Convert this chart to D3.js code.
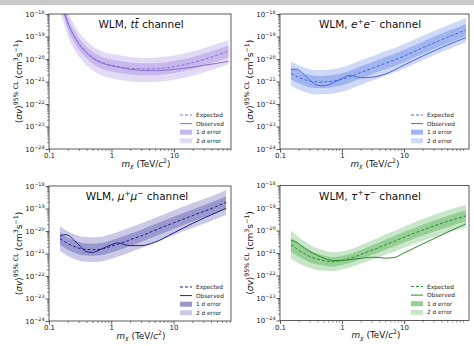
<!DOCTYPE html>
<html>
<head>
<meta charset="utf-8">
<script src="https://cdn.jsdelivr.net/npm/d3@7/dist/d3.min.js"></script>
<style>
  body { margin: 0; background: #fff; }
  svg { display: block; font-family: "DejaVu Sans", sans-serif; }
</style>
</head>
<body>
<div id="chart"></div>
<script>
// upper limits on <sigma v>, values are log10(cm^3 s^-1)
var ttMass      = [0.15, 0.18, 0.2, 0.25, 0.3, 0.4, 0.5, 0.7, 1, 1.5, 2, 3, 5, 7, 10, 20, 30, 50, 75];
var ttExpected  = [-17.3, -18.0, -18.4, -18.95, -19.3, -19.7, -19.93, -20.15, -20.27, -20.36, -20.41, -20.44, -20.44, -20.4, -20.34, -20.16, -20.02, -19.82, -19.65];
var ttObserved  = [-17.3, -18.0, -18.4, -18.97, -19.33, -19.73, -19.96, -20.18, -20.3, -20.4, -20.46, -20.5, -20.52, -20.5, -20.46, -20.36, -20.28, -20.19, -20.1];
var ttSigma1Hi  = [-17.05, -17.75, -18.15, -18.7, -19.05, -19.45, -19.68, -19.9, -20.02, -20.11, -20.16, -20.19, -20.19, -20.15, -20.09, -19.91, -19.77, -19.57, -19.4];
var ttSigma1Lo  = [-17.58, -18.28, -18.68, -19.23, -19.58, -19.98, -20.21, -20.43, -20.55, -20.64, -20.69, -20.72, -20.72, -20.68, -20.62, -20.44, -20.3, -20.1, -19.93];
var ttSigma2Hi  = [-16.8, -17.5, -17.9, -18.45, -18.8, -19.2, -19.43, -19.65, -19.77, -19.86, -19.91, -19.94, -19.94, -19.9, -19.84, -19.66, -19.52, -19.32, -19.15];
var ttSigma2Lo  = [-17.88, -18.58, -18.98, -19.53, -19.88, -20.28, -20.51, -20.73, -20.85, -20.94, -20.99, -21.02, -21.02, -20.98, -20.92, -20.74, -20.6, -20.4, -20.23];

var eeMass      = [0.15, 0.18, 0.2, 0.25, 0.3, 0.4, 0.5, 0.7, 1, 1.3, 1.6, 2, 3, 5, 10, 20, 50, 100];
var eeExpected  = [-20.64, -20.75, -20.81, -20.92, -20.98, -21.02, -21.02, -20.98, -20.9, -20.8, -20.7, -20.6, -20.42, -20.19, -19.87, -19.5, -19.04, -18.71];
var eeObserved  = [-20.49, -20.45, -20.49, -20.72, -20.93, -21.17, -21.19, -21.08, -20.86, -20.73, -20.77, -20.83, -20.81, -20.67, -20.27, -19.87, -19.38, -19.05];
var eeSigma1Hi  = [-20.37, -20.48, -20.54, -20.65, -20.71, -20.75, -20.75, -20.71, -20.63, -20.53, -20.43, -20.33, -20.15, -19.92, -19.6, -19.23, -18.77, -18.44];
var eeSigma1Lo  = [-20.91, -21.02, -21.08, -21.19, -21.25, -21.29, -21.29, -21.25, -21.17, -21.07, -20.97, -20.87, -20.69, -20.46, -20.14, -19.77, -19.31, -18.98];
var eeSigma2Hi  = [-20.11, -20.22, -20.28, -20.39, -20.45, -20.49, -20.49, -20.45, -20.37, -20.27, -20.17, -20.07, -19.89, -19.66, -19.34, -18.97, -18.51, -18.18];
var eeSigma2Lo  = [-21.19, -21.3, -21.36, -21.47, -21.53, -21.57, -21.57, -21.53, -21.45, -21.35, -21.25, -21.15, -20.97, -20.74, -20.42, -20.05, -19.59, -19.26];

var mmMass      = [0.15, 0.18, 0.2, 0.25, 0.3, 0.4, 0.5, 0.7, 1, 1.3, 1.7, 2, 3, 5, 10, 20, 50, 70];
var mmExpected  = [-20.34, -20.48, -20.56, -20.68, -20.76, -20.82, -20.83, -20.8, -20.68, -20.58, -20.47, -20.39, -20.22, -19.97, -19.64, -19.32, -18.9, -18.73];
var mmObserved  = [-20.24, -20.16, -20.18, -20.4, -20.61, -20.92, -20.95, -20.8, -20.61, -20.53, -20.62, -20.65, -20.65, -20.5, -20.09, -19.67, -19.17, -19.0];
var mmSigma1Hi  = [-20.07, -20.21, -20.29, -20.41, -20.49, -20.55, -20.56, -20.53, -20.41, -20.31, -20.2, -20.12, -19.95, -19.7, -19.37, -19.05, -18.63, -18.46];
var mmSigma1Lo  = [-20.61, -20.75, -20.83, -20.95, -21.03, -21.09, -21.1, -21.07, -20.95, -20.85, -20.74, -20.66, -20.49, -20.24, -19.91, -19.59, -19.17, -19.0];
var mmSigma2Hi  = [-19.79, -19.93, -20.01, -20.13, -20.21, -20.27, -20.28, -20.25, -20.13, -20.03, -19.92, -19.84, -19.67, -19.42, -19.09, -18.77, -18.35, -18.18];
var mmSigma2Lo  = [-20.89, -21.03, -21.11, -21.23, -21.31, -21.37, -21.38, -21.35, -21.23, -21.13, -21.02, -20.94, -20.77, -20.52, -20.19, -19.87, -19.45, -19.28];

var tauMass     = [0.15, 0.18, 0.2, 0.25, 0.3, 0.4, 0.5, 0.7, 1, 1.5, 2, 3, 4, 5, 7, 10, 20, 50, 100];
var tauExpected = [-20.63, -20.78, -20.88, -21.03, -21.15, -21.27, -21.33, -21.39, -21.33, -21.2, -21.07, -20.88, -20.75, -20.63, -20.48, -20.3, -19.98, -19.6, -19.35];
var tauObserved = [-20.45, -20.5, -20.59, -20.78, -20.93, -21.1, -21.22, -21.33, -21.33, -21.28, -21.24, -21.19, -21.2, -21.23, -21.2, -21.0, -20.6, -20.08, -19.7];
var tauSigma1Hi = [-20.32, -20.48, -20.59, -20.76, -20.89, -21.03, -21.11, -21.18, -21.13, -21.0, -20.87, -20.67, -20.53, -20.41, -20.25, -20.07, -19.74, -19.35, -19.1];
var tauSigma1Lo = [-20.94, -21.08, -21.17, -21.3, -21.41, -21.51, -21.55, -21.6, -21.53, -21.4, -21.27, -21.09, -20.97, -20.85, -20.71, -20.53, -20.22, -19.85, -19.6];
var tauSigma2Hi = [-20.01, -20.18, -20.3, -20.48, -20.63, -20.79, -20.88, -20.97, -20.93, -20.8, -20.66, -20.45, -20.31, -20.18, -20.02, -19.83, -19.5, -19.1, -18.85];
var tauSigma2Lo = [-21.25, -21.38, -21.46, -21.58, -21.67, -21.75, -21.78, -21.81, -21.73, -21.6, -21.48, -21.31, -21.19, -21.08, -20.94, -20.77, -20.46, -20.1, -19.85];

var yTicks = [-24, -23, -22, -21, -20, -19, -18];
var xTicks = [0.1, 1, 10];
var legendLabels = ["Expected", "Observed", "1 \u03c3 error", "2 \u03c3 error"];

var W = 474, H = 346;

var panels = [
  { mass: ttMass, exp: ttExpected, obs: ttObserved, s1hi: ttSigma1Hi, s1lo: ttSigma1Lo, s2hi: ttSigma2Hi, s2lo: ttSigma2Lo,
    left: 49, top: 14, width: 182, height: 135, xmax: 82, line: "#8b6fd4", fill: "#9370db", titleX: 141, xlabelX: 146,
    title: [{t: "WLM, "}, {t: "t", it: 1}, {t: "t\u0304", it: 1}, {t: " channel"}] },
  { mass: eeMass, exp: eeExpected, obs: eeObserved, s1hi: eeSigma1Hi, s1lo: eeSigma1Lo, s2hi: eeSigma2Hi, s2lo: eeSigma2Lo,
    left: 280, top: 14, width: 189, height: 135, xmax: 112, line: "#4468e0", fill: "#4169e1", titleX: 370, xlabelX: 375,
    title: [{t: "WLM, "}, {t: "e", it: 1}, {t: "+", sup: 1}, {t: "e", it: 1}, {t: "\u2212", sup: 1}, {t: " channel"}] },
  { mass: mmMass, exp: mmExpected, obs: mmObserved, s1hi: mmSigma1Hi, s1lo: mmSigma1Lo, s2hi: mmSigma2Hi, s2lo: mmSigma2Lo,
    left: 49, top: 186, width: 182, height: 135, xmax: 84, line: "#1f1f86", fill: "#3333a0", titleX: 137, xlabelX: 141,
    title: [{t: "WLM, "}, {t: "\u03bc", it: 1}, {t: "+", sup: 1}, {t: "\u03bc", it: 1}, {t: "\u2212", sup: 1}, {t: " channel"}] },
  { mass: tauMass, exp: tauExpected, obs: tauObserved, s1hi: tauSigma1Hi, s1lo: tauSigma1Lo, s2hi: tauSigma2Hi, s2lo: tauSigma2Lo,
    left: 280, top: 185.5, width: 189, height: 135, xmax: 112, line: "#2b8a2b", fill: "#2ca02c", titleX: 370, xlabelX: 376,
    title: [{t: "WLM, "}, {t: "\u03c4", it: 1}, {t: "+", sup: 1}, {t: "\u03c4", it: 1}, {t: "\u2212", sup: 1}, {t: " channel"}] }
];

var svg = d3.select("#chart").append("svg")
  .attr("width", W)
  .attr("height", H);

svg.append("rect").attr("width", W).attr("height", H).attr("fill", "#fff");
svg.append("rect").attr("width", W).attr("height", 5).attr("fill", "#c9c9c9");

// writes mathtext-like runs (italic, super/subscript) into a text element
function rich(text, parts, size) {
  var shift = 0;
  parts.forEach(function(p) {
    var s = p.sup ? -size * 0.4 : (p.sub ? size * 0.22 : 0);
    text.append("tspan")
      .attr("dy", s - shift)
      .attr("font-size", (p.sup || p.sub) ? size * 0.7 : size)
      .style("font-style", p.it ? "italic" : null)
      .text(p.t);
    shift = s;
  });
}

function minorTicks(lo, hi) {
  var out = [];
  for (var e = Math.floor(Math.log10(lo)); e <= Math.ceil(Math.log10(hi)); e++) {
    for (var k = 2; k <= 9; k++) {
      var v = k * Math.pow(10, e);
      if (v > lo && v < hi) out.push(v);
    }
  }
  return out;
}

panels.forEach(function(p, i) {
  var x = d3.scaleLog().domain([0.1, p.xmax]).range([p.left, p.left + p.width]);
  var y = d3.scaleLog().domain([1e-24, 1e-18]).range([p.top + p.height, p.top]);
  var pw = function(v) { return Math.pow(10, v); };

  var rows = p.mass.map(function(m, j) {
    return { m: m, exp: pw(p.exp[j]), obs: pw(p.obs[j]),
             s1hi: pw(p.s1hi[j]), s1lo: pw(p.s1lo[j]), s2hi: pw(p.s2hi[j]), s2lo: pw(p.s2lo[j]) };
  });

  var clipId = "clip" + i;
  svg.append("clipPath").attr("id", clipId)
    .append("rect").attr("x", p.left).attr("y", p.top).attr("width", p.width).attr("height", p.height);

  var g = svg.append("g").attr("clip-path", "url(#" + clipId + ")");

  var band = function(lo, hi) {
    return d3.area().curve(d3.curveMonotoneX)
      .x(function(d) { return x(d.m); })
      .y0(function(d) { return y(d[lo]); })
      .y1(function(d) { return y(d[hi]); });
  };
  var line = function(key) {
    return d3.line().curve(d3.curveMonotoneX)
      .x(function(d) { return x(d.m); })
      .y(function(d) { return y(d[key]); });
  };

  g.append("path").datum(rows).attr("d", band("s2lo", "s2hi"))
    .attr("fill", p.fill).attr("fill-opacity", 0.26);
  g.append("path").datum(rows).attr("d", band("s1lo", "s1hi"))
    .attr("fill", p.fill).attr("fill-opacity", 0.32);
  g.append("path").datum(rows).attr("d", line("exp"))
    .attr("fill", "none").attr("stroke", p.line).attr("stroke-width", 1).attr("stroke-dasharray", "3,2");
  g.append("path").datum(rows).attr("d", line("obs"))
    .attr("fill", "none").attr("stroke", p.line).attr("stroke-width", 1);

  // axes
  var bottom = p.top + p.height;
  svg.append("g").attr("transform", "translate(0," + bottom + ")")
    .call(d3.axisBottom(x).tickValues(minorTicks(0.1, p.xmax)).tickSize(2).tickFormat(""))
    .call(function(a) { a.select(".domain").remove(); a.selectAll("line").attr("stroke", "#444").attr("stroke-width", 0.6); });
  svg.append("g").attr("transform", "translate(0," + bottom + ")")
    .call(d3.axisBottom(x).tickValues(xTicks).tickSize(3.5).tickFormat(function(d) { return d3.format("")(d); }))
    .call(function(a) {
      a.select(".domain").remove();
      a.selectAll("line").attr("stroke", "#333").attr("stroke-width", 0.8);
      a.selectAll("text").attr("font-size", 7).attr("font-family", "DejaVu Sans").attr("fill", "#222").attr("y", 4.5);
    });

  var decades = yTicks.map(pw);
  var yMinor = [];
  decades.slice(0, -1).forEach(function(d) { for (var k = 2; k <= 9; k++) yMinor.push(k * d); });
  svg.append("g").attr("transform", "translate(" + p.left + ",0)")
    .call(d3.axisLeft(y).tickValues(yMinor).tickSize(2).tickFormat(""))
    .call(function(a) { a.select(".domain").remove(); a.selectAll("line").attr("stroke", "#444").attr("stroke-width", 0.6); });
  svg.append("g").attr("transform", "translate(" + p.left + ",0)")
    .call(d3.axisLeft(y).tickValues(decades).tickSize(3.5).tickFormat(""))
    .call(function(a) { a.select(".domain").remove(); a.selectAll("line").attr("stroke", "#333").attr("stroke-width", 0.8); });

  yTicks.forEach(function(e) {
    var t = svg.append("text")
      .attr("x", p.left - 4.5).attr("y", y(pw(e)) + 2.5)
      .attr("text-anchor", "end").attr("font-size", 7).attr("fill", "#222");
    rich(t, [{t: "10"}, {t: "\u2212" + Math.abs(e), sup: 1}], 7);
  });

  svg.append("rect")
    .attr("x", p.left).attr("y", p.top).attr("width", p.width).attr("height", p.height)
    .attr("fill", "none").attr("stroke", "#333").attr("stroke-width", 0.8);

  // titles and axis labels
  var tt = svg.append("text").attr("x", p.titleX).attr("y", p.top + 14)
    .attr("text-anchor", "middle").attr("font-size", 10.5).attr("fill", "#111");
  rich(tt, p.title, 10.5);

  var xl = svg.append("text").attr("x", p.xlabelX).attr("y", bottom + 17.5)
    .attr("text-anchor", "middle").attr("font-size", 8.8).attr("fill", "#111");
  rich(xl, [{t: "m", it: 1}, {t: "\u03c7", sub: 1, it: 1}, {t: " (TeV/"}, {t: "c", it: 1}, {t: "2", sup: 1}, {t: ")"}], 8.8);

  var yl = svg.append("text")
    .attr("transform", "translate(" + (p.left - 27) + "," + (p.top + p.height / 2) + ") rotate(-90)")
    .attr("text-anchor", "middle").attr("font-size", 9).attr("fill", "#111");
  rich(yl, [{t: "\u27e8"}, {t: "\u03c3v", it: 1}, {t: "\u27e9"}, {t: "95% CL", sup: 1}, {t: " (cm"}, {t: "3", sup: 1},
            {t: "s"}, {t: "\u22121", sup: 1}, {t: ")"}], 9);

  // legend
  var lx = p.left + 131, ly = p.top + 101, dy = 8.6;
  legendLabels.forEach(function(lab, j) {
    var yy = ly + j * dy;
    if (j === 0) {
      svg.append("line").attr("x1", lx).attr("x2", lx + 12).attr("y1", yy).attr("y2", yy)
        .attr("stroke", p.line).attr("stroke-width", 1).attr("stroke-dasharray", "3,2");
    } else if (j === 1) {
      svg.append("line").attr("x1", lx).attr("x2", lx + 12).attr("y1", yy).attr("y2", yy)
        .attr("stroke", p.line).attr("stroke-width", 1);
    } else {
      svg.append("rect").attr("x", lx).attr("y", yy - 2.5).attr("width", 12).attr("height", 5)
        .attr("fill", p.fill).attr("fill-opacity", j === 2 ? 0.5 : 0.26);
    }
    svg.append("text").attr("x", lx + 16).attr("y", yy + 2)
      .attr("font-size", 5.8).attr("fill", "#222").text(lab);
  });
});
</script>
</body>
</html>
